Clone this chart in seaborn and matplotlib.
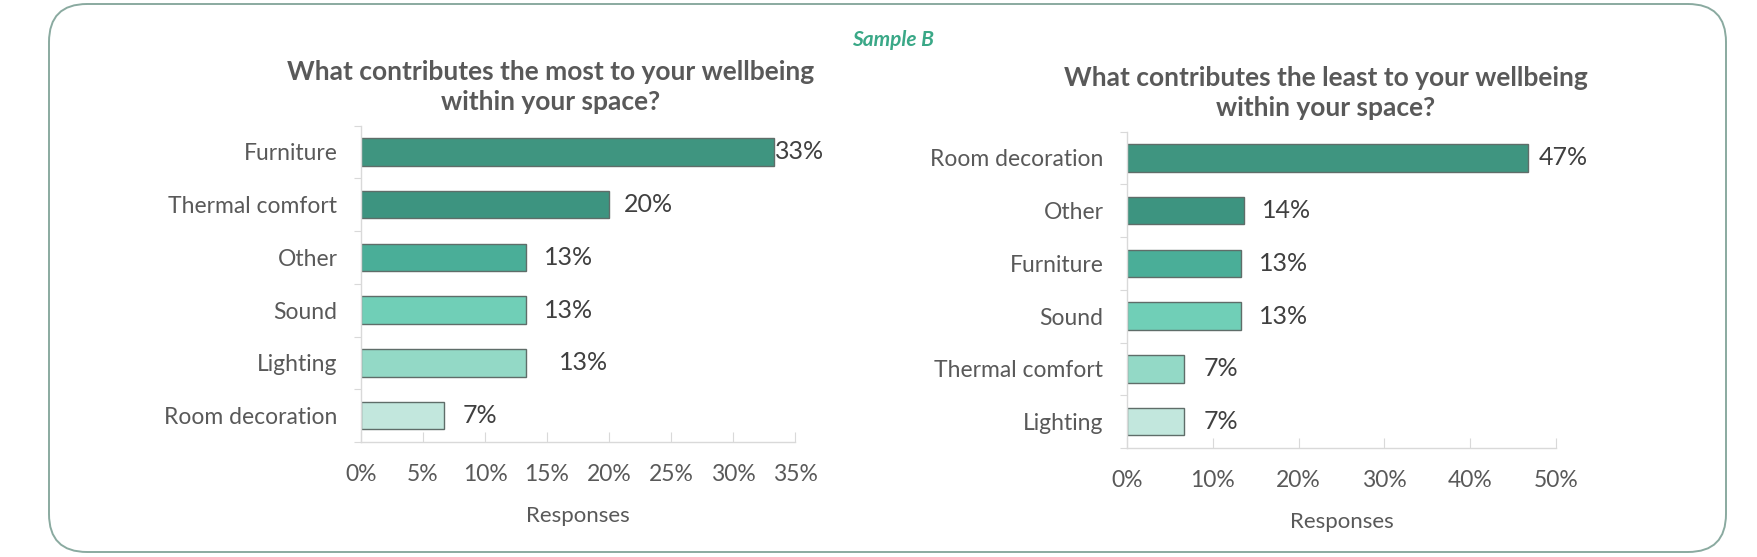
import matplotlib
matplotlib.use("Agg")
import matplotlib.pyplot as plt
import seaborn as sns
import pandas as pd
from matplotlib.patches import FancyBboxPatch
from matplotlib.ticker import FixedLocator

# ---- data ----
most_categories = ["Furniture", "Thermal comfort", "Other", "Sound", "Lighting", "Room decoration"]
most_values = [33.3, 20.0, 13.3, 13.3, 13.3, 6.7]
least_categories = ["Room decoration", "Other", "Furniture", "Sound", "Thermal comfort", "Lighting"]
least_values = [46.7, 13.6, 13.3, 13.3, 6.7, 6.7]
most_ticks = [0, 5, 10, 15, 20, 25, 30, 35]
least_ticks = [0, 10, 20, 30, 40, 50]
title_most = "What contributes the most to your wellbeing\nwithin your space?"
title_least = "What contributes the least to your wellbeing\nwithin your space?"
sample_label = "Sample B"
x_label = "Responses"

# ---- style ----
shades = ["#3f9580", "#3d9480", "#4aae98", "#70cfb7", "#93d9c6", "#c2e7dd"]
most_pads = [1, 11, 13, 13, 24, 13]
least_pads = [8, 13, 13, 13, 14, 14]

sns.set_theme(style="white")
plt.rcParams["font.family"] = ["Lato", "DejaVu Sans"]

W, H = 1758, 557
fig = plt.figure(figsize=(W / 100, H / 100), dpi=100)

# border
bg = fig.add_axes([0, 0, 1, 1])
bg.set_xlim(0, W)
bg.set_ylim(H, 0)
bg.axis("off")
bg.add_patch(FancyBboxPatch((49, 4), 1677, 548, boxstyle="round,pad=0,rounding_size=38",
                            fill=False, edgecolor="#8aaaa0", linewidth=1.4))

gray_txt = "#595959"
axis_col = "#d9d9d9"


def draw(rect, cats, vals, ticks, xmax, pads):
    ax = fig.add_axes(rect)
    df = pd.DataFrame({"cat": cats, "val": vals})
    pal = dict(zip(cats, shades))
    sns.barplot(data=df, y="cat", x="val", hue="cat", palette=pal, orient="h",
                order=cats, hue_order=cats, legend=False, width=0.52,
                edgecolor="#5f6d69", linewidth=1.0, saturation=1, ax=ax)
    ax.set_xlim(0, xmax)
    ax.set_ylim(len(cats) - 0.5, -0.5)
    ax.set_xticks(ticks)
    ax.set_xticklabels([f"{t}%" for t in ticks])
    ax.yaxis.set_minor_locator(FixedLocator([i - 0.5 for i in range(len(cats) + 1)]))
    ax.tick_params(axis="y", which="major", length=0, pad=17, labelsize=16.5, labelcolor=gray_txt)
    ax.tick_params(axis="y", which="minor", length=5, width=0.8, color=axis_col, direction="out", left=True)
    ax.tick_params(axis="x", which="major", length=7, width=0.8, color=axis_col, direction="in",
                   pad=16, labelsize=16.5, labelcolor=gray_txt, bottom=True)
    for s in ["top", "right"]:
        ax.spines[s].set_visible(False)
    for s in ["left", "bottom"]:
        ax.spines[s].set_color(axis_col)
        ax.spines[s].set_linewidth(1.0)
    ax.set_ylabel("")
    ax.set_xlabel(x_label, fontsize=16, color=gray_txt, labelpad=15)
    bars = sorted(ax.patches, key=lambda p: p.get_y())
    for p, v, pd_ in zip(bars, vals, pads):
        ax.annotate(f"{round(v):d}%", (p.get_width(), p.get_y() + p.get_height() / 2),
                    xytext=(pd_, 0), textcoords="offset points", ha="left", va="center",
                    fontsize=18, color="#404040")
    return ax


draw([361 / W, 1 - 442 / H, 434 / W, (442 - 125.6) / H],
     most_categories, most_values, most_ticks, 35, most_pads)
draw([1127 / W, 1 - 448 / H, 429 / W, (448 - 131.6) / H],
     least_categories, least_values, least_ticks, 50, least_pads)

fig.text(551 / W, 1 - 87 / H, title_most, ha="center", va="center", fontsize=19,
         fontweight="bold", color=gray_txt, linespacing=1.25)
fig.text(1326 / W, 1 - 93 / H, title_least, ha="center", va="center", fontsize=19,
         fontweight="bold", color=gray_txt, linespacing=1.25)
fig.text(893 / W, 1 - 40 / H, sample_label, ha="center", va="center", fontsize=15,
         fontweight="bold", fontstyle="italic", color="#3aa887")

fig.savefig("out.png", dpi=100)
